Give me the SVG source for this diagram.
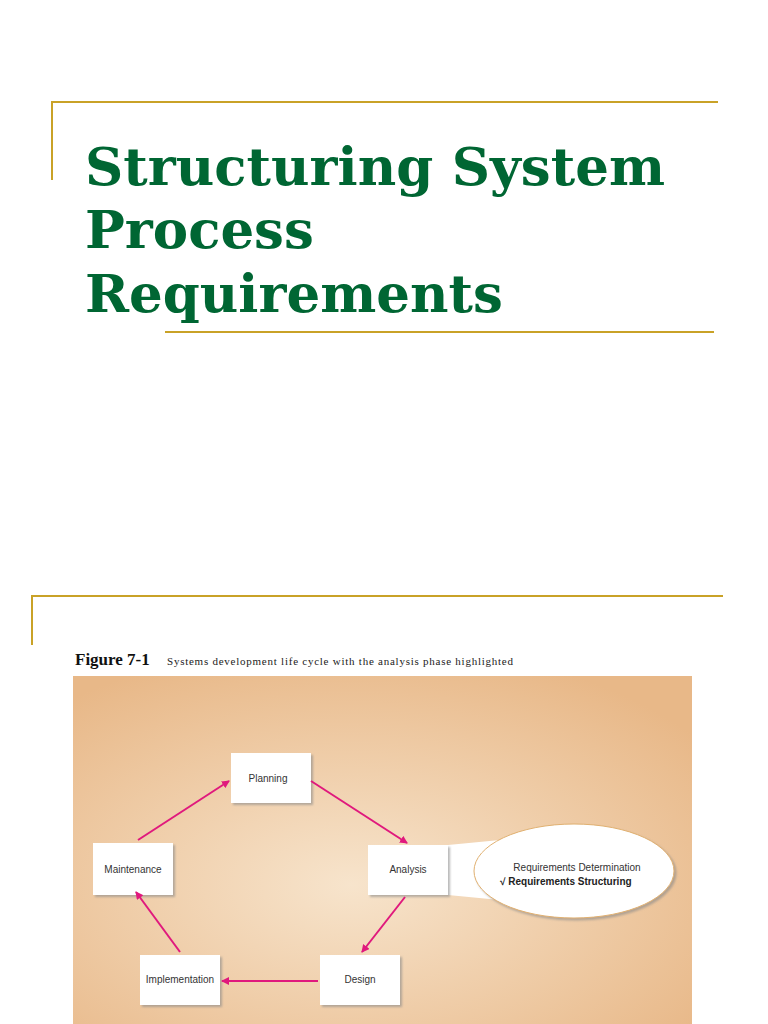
<svg xmlns="http://www.w3.org/2000/svg" width="768" height="1024" viewBox="0 0 768 1024">
<style>
.gold{stroke:#c9a227;stroke-width:2;fill:none}
.title{font-family:"DejaVu Serif",serif;font-weight:bold;font-size:53px;fill:#006633}
.box{fill:#fff}
.lbl{font-family:"Liberation Sans",sans-serif;font-size:10px;fill:#333;text-anchor:middle}
.arr{stroke:#e0197d;stroke-width:2;fill:none;marker-end:url(#ah)}
</style>
<defs>
<marker id="ah" markerWidth="8" markerHeight="8" refX="7" refY="4" orient="auto" markerUnits="userSpaceOnUse"><path d="M0,0 L8,4 L0,8 Z" fill="#e0197d"/></marker>
<radialGradient id="bg" cx="0.45" cy="0.6" r="0.7"><stop offset="0" stop-color="#f7e4cc"/><stop offset="1" stop-color="#e8b888"/></radialGradient>
<filter id="sh"><feDropShadow dx="2" dy="2" stdDeviation="1" flood-color="#888" flood-opacity="0.6"/></filter>
</defs>
<rect width="768" height="1024" fill="#fff"/>
<path class="gold" d="M52,180 V102 H718"/>
<path class="gold" d="M165,332 H714"/>
<text class="title" x="85" y="185" textLength="580">Structuring System</text>
<text class="title" x="85" y="248">Process</text>
<text class="title" x="85" y="312">Requirements</text>
<path class="gold" d="M32,645 V596 H723"/>
<text x="75" y="665" font-family="Liberation Serif,serif" font-size="17" font-weight="bold" fill="#111">Figure 7-1</text>
<text x="167" y="665" font-family="Liberation Serif,serif" font-size="11" fill="#222" textLength="346">Systems development life cycle with the analysis phase highlighted</text>
<rect x="73" y="676" width="619" height="348" fill="url(#bg)"/>
<g id="callout">
<path d="M448,845 L500,840 L500,900 L448,895 Z" fill="#fff"/>
<ellipse cx="574" cy="871" rx="100" ry="47" fill="#fff" stroke="#e0b070" filter="url(#sh)"/>
<text x="577" y="871" class="lbl" font-size="10">Requirements Determination</text>
<text x="500" y="885" font-family="Liberation Sans,sans-serif" font-size="10" font-weight="bold" fill="#222">√ Requirements Structuring</text>
</g>
<g id="planning"><rect class="box" x="231" y="753" width="80" height="50" filter="url(#sh)"/><text class="lbl" x="268" y="782">Planning</text></g>
<g id="maintenance"><rect class="box" x="93" y="843" width="80" height="52" filter="url(#sh)"/><text class="lbl" x="133" y="873">Maintenance</text></g>
<g id="analysis"><rect class="box" x="368" y="845" width="80" height="50" filter="url(#sh)"/><text class="lbl" x="408" y="873">Analysis</text></g>
<g id="design"><rect class="box" x="320" y="955" width="80" height="50" filter="url(#sh)"/><text class="lbl" x="360" y="983">Design</text></g>
<g id="implementation"><rect class="box" x="140" y="955" width="80" height="50" filter="url(#sh)"/><text class="lbl" x="180" y="983">Implementation</text></g>
<g id="connectors">
<path class="arr" d="M138,840 L229,781"/>
<path class="arr" d="M311,781 L407,843"/>
<path class="arr" d="M405,897 L362,952"/>
<path class="arr" d="M318,981 L222,981"/>
<path class="arr" d="M180,952 L136,892"/>
</g>
</svg>
